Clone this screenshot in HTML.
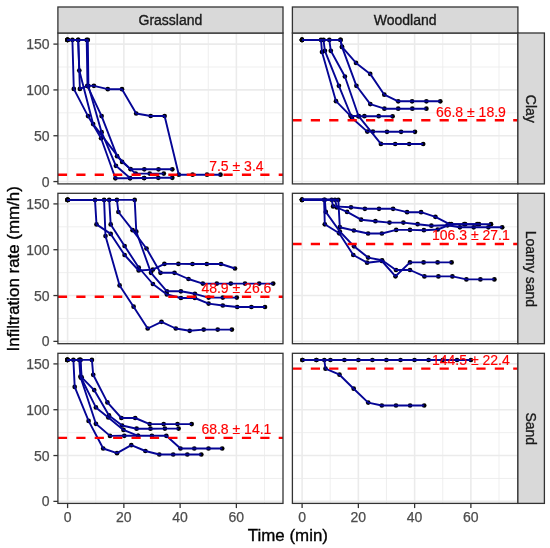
<!DOCTYPE html>
<html><head><meta charset="utf-8"><title>Infiltration rate</title>
<style>
html,body{margin:0;padding:0;background:#fff;}
body{width:550px;height:548px;overflow:hidden;}
svg{display:block;font-family:'Liberation Sans', Arial, Helvetica, sans-serif;filter:blur(0.3px);}
</style></head>
<body>
<svg width="550" height="548" viewBox="0 0 550 548">
<rect x="0" y="0" width="550" height="548" fill="#fff"/>
<g>
<rect x="57.9" y="33" width="225.1" height="150.9" fill="#fff"/>
<line x1="95.73" y1="33" x2="95.73" y2="183.9" stroke="#EBEBEB" stroke-width="0.8"/>
<line x1="151.99" y1="33" x2="151.99" y2="183.9" stroke="#EBEBEB" stroke-width="0.8"/>
<line x1="208.25" y1="33" x2="208.25" y2="183.9" stroke="#EBEBEB" stroke-width="0.8"/>
<line x1="264.51" y1="33" x2="264.51" y2="183.9" stroke="#EBEBEB" stroke-width="0.8"/>
<line x1="57.9" y1="158.66" x2="283" y2="158.66" stroke="#EBEBEB" stroke-width="0.8"/>
<line x1="57.9" y1="112.84" x2="283" y2="112.84" stroke="#EBEBEB" stroke-width="0.8"/>
<line x1="57.9" y1="67.01" x2="283" y2="67.01" stroke="#EBEBEB" stroke-width="0.8"/>
<line x1="67.6" y1="33" x2="67.6" y2="183.9" stroke="#EBEBEB" stroke-width="1.6"/>
<line x1="123.86" y1="33" x2="123.86" y2="183.9" stroke="#EBEBEB" stroke-width="1.6"/>
<line x1="180.12" y1="33" x2="180.12" y2="183.9" stroke="#EBEBEB" stroke-width="1.6"/>
<line x1="236.38" y1="33" x2="236.38" y2="183.9" stroke="#EBEBEB" stroke-width="1.6"/>
<line x1="57.9" y1="181.57" x2="283" y2="181.57" stroke="#EBEBEB" stroke-width="1.6"/>
<line x1="57.9" y1="135.75" x2="283" y2="135.75" stroke="#EBEBEB" stroke-width="1.6"/>
<line x1="57.9" y1="89.92" x2="283" y2="89.92" stroke="#EBEBEB" stroke-width="1.6"/>
<line x1="57.9" y1="44.1" x2="283" y2="44.1" stroke="#EBEBEB" stroke-width="1.6"/>
<circle cx="67.5" cy="39.9" r="2.35" fill="#000"/>
<circle cx="72.4" cy="39.9" r="2.35" fill="#000"/>
<circle cx="73.8" cy="88.9" r="2.35" fill="#000"/>
<circle cx="88" cy="116.1" r="2.35" fill="#000"/>
<circle cx="101.1" cy="138.2" r="2.35" fill="#000"/>
<circle cx="115.4" cy="178.3" r="2.35" fill="#000"/>
<circle cx="130.1" cy="178.3" r="2.35" fill="#000"/>
<circle cx="144.2" cy="178.1" r="2.35" fill="#000"/>
<circle cx="158.3" cy="177.8" r="2.35" fill="#000"/>
<circle cx="172.3" cy="177.8" r="2.35" fill="#000"/>
<circle cx="67.5" cy="39.9" r="2.35" fill="#000"/>
<circle cx="78.2" cy="39.9" r="2.35" fill="#000"/>
<circle cx="79.3" cy="70.6" r="2.35" fill="#000"/>
<circle cx="93.1" cy="124.1" r="2.35" fill="#000"/>
<circle cx="122.1" cy="161.9" r="2.35" fill="#000"/>
<circle cx="135.7" cy="173.6" r="2.35" fill="#000"/>
<circle cx="149.7" cy="173.6" r="2.35" fill="#000"/>
<circle cx="163.8" cy="173.6" r="2.35" fill="#000"/>
<circle cx="67.5" cy="39.9" r="2.35" fill="#000"/>
<circle cx="86.7" cy="39.9" r="2.35" fill="#000"/>
<circle cx="87.5" cy="86.1" r="2.35" fill="#000"/>
<circle cx="101.6" cy="116.1" r="2.35" fill="#000"/>
<circle cx="117.1" cy="156.2" r="2.35" fill="#000"/>
<circle cx="130.6" cy="169.2" r="2.35" fill="#000"/>
<circle cx="144.3" cy="169.3" r="2.35" fill="#000"/>
<circle cx="158.5" cy="169.3" r="2.35" fill="#000"/>
<circle cx="172.3" cy="169.3" r="2.35" fill="#000"/>
<circle cx="67.5" cy="39.9" r="2.35" fill="#000"/>
<circle cx="87.8" cy="39.9" r="2.35" fill="#000"/>
<circle cx="88.4" cy="86" r="2.35" fill="#000"/>
<circle cx="101.6" cy="132.2" r="2.35" fill="#000"/>
<circle cx="115.9" cy="165.8" r="2.35" fill="#000"/>
<circle cx="130" cy="178" r="2.35" fill="#000"/>
<circle cx="144.2" cy="178" r="2.35" fill="#000"/>
<circle cx="67.5" cy="39.9" r="2.35" fill="#000"/>
<circle cx="78.2" cy="39.9" r="2.35" fill="#000"/>
<circle cx="79.9" cy="88.9" r="2.35" fill="#000"/>
<circle cx="87.4" cy="85.9" r="2.35" fill="#000"/>
<circle cx="93.9" cy="85.8" r="2.35" fill="#000"/>
<circle cx="107.8" cy="89.2" r="2.35" fill="#000"/>
<circle cx="122" cy="89.2" r="2.35" fill="#000"/>
<circle cx="136.2" cy="113.5" r="2.35" fill="#000"/>
<circle cx="150.7" cy="116" r="2.35" fill="#000"/>
<circle cx="164.6" cy="116" r="2.35" fill="#000"/>
<circle cx="178.8" cy="174.7" r="2.35" fill="#000"/>
<circle cx="192.6" cy="174.7" r="2.35" fill="#000"/>
<circle cx="207" cy="174.7" r="2.35" fill="#000"/>
<circle cx="220.5" cy="174.7" r="2.35" fill="#000"/>
<polyline points="67.5,39.9 72.4,39.9 73.8,88.9 88,116.1 101.1,138.2 115.4,178.3 130.1,178.3 144.2,178.1 158.3,177.8 172.3,177.8" fill="none" stroke="#050595" stroke-width="1.9" stroke-linejoin="round" stroke-linecap="butt"/>
<polyline points="67.5,39.9 78.2,39.9 79.3,70.6 93.1,124.1 122.1,161.9 135.7,173.6 149.7,173.6 163.8,173.6" fill="none" stroke="#050595" stroke-width="1.9" stroke-linejoin="round" stroke-linecap="butt"/>
<polyline points="67.5,39.9 86.7,39.9 87.5,86.1 101.6,116.1 117.1,156.2 130.6,169.2 144.3,169.3 158.5,169.3 172.3,169.3" fill="none" stroke="#050595" stroke-width="1.9" stroke-linejoin="round" stroke-linecap="butt"/>
<polyline points="67.5,39.9 87.8,39.9 88.4,86 101.6,132.2 115.9,165.8 130,178 144.2,178" fill="none" stroke="#050595" stroke-width="1.9" stroke-linejoin="round" stroke-linecap="butt"/>
<polyline points="67.5,39.9 78.2,39.9 79.9,88.9 87.4,85.9 93.9,85.8 107.8,89.2 122,89.2 136.2,113.5 150.7,116 164.6,116 178.8,174.7 192.6,174.7 207,174.7 220.5,174.7" fill="none" stroke="#050595" stroke-width="1.9" stroke-linejoin="round" stroke-linecap="butt"/>
<line x1="57.9" y1="174.8" x2="283" y2="174.8" stroke="#FF0000" stroke-width="2.4" stroke-dasharray="9.2 9.2"/>
<text x="236.38" y="171.3" text-anchor="middle" fill="#FF0000" stroke="#FF0000" stroke-width="0.15" font-size="14.0">7.5 ± 3.4</text>
<rect x="57.9" y="33" width="225.1" height="150.9" fill="none" stroke="#333333" stroke-width="1.3"/>
</g>
<g>
<rect x="292.4" y="33" width="225.5" height="150.9" fill="#fff"/>
<line x1="330.23" y1="33" x2="330.23" y2="183.9" stroke="#EBEBEB" stroke-width="0.8"/>
<line x1="386.49" y1="33" x2="386.49" y2="183.9" stroke="#EBEBEB" stroke-width="0.8"/>
<line x1="442.75" y1="33" x2="442.75" y2="183.9" stroke="#EBEBEB" stroke-width="0.8"/>
<line x1="499.01" y1="33" x2="499.01" y2="183.9" stroke="#EBEBEB" stroke-width="0.8"/>
<line x1="292.4" y1="158.66" x2="517.9" y2="158.66" stroke="#EBEBEB" stroke-width="0.8"/>
<line x1="292.4" y1="112.84" x2="517.9" y2="112.84" stroke="#EBEBEB" stroke-width="0.8"/>
<line x1="292.4" y1="67.01" x2="517.9" y2="67.01" stroke="#EBEBEB" stroke-width="0.8"/>
<line x1="302.1" y1="33" x2="302.1" y2="183.9" stroke="#EBEBEB" stroke-width="1.6"/>
<line x1="358.36" y1="33" x2="358.36" y2="183.9" stroke="#EBEBEB" stroke-width="1.6"/>
<line x1="414.62" y1="33" x2="414.62" y2="183.9" stroke="#EBEBEB" stroke-width="1.6"/>
<line x1="470.88" y1="33" x2="470.88" y2="183.9" stroke="#EBEBEB" stroke-width="1.6"/>
<line x1="292.4" y1="181.57" x2="517.9" y2="181.57" stroke="#EBEBEB" stroke-width="1.6"/>
<line x1="292.4" y1="135.75" x2="517.9" y2="135.75" stroke="#EBEBEB" stroke-width="1.6"/>
<line x1="292.4" y1="89.92" x2="517.9" y2="89.92" stroke="#EBEBEB" stroke-width="1.6"/>
<line x1="292.4" y1="44.1" x2="517.9" y2="44.1" stroke="#EBEBEB" stroke-width="1.6"/>
<circle cx="302" cy="39.9" r="2.35" fill="#000"/>
<circle cx="321" cy="39.9" r="2.35" fill="#000"/>
<circle cx="322" cy="52" r="2.35" fill="#000"/>
<circle cx="336" cy="101.2" r="2.35" fill="#000"/>
<circle cx="350.5" cy="115.8" r="2.35" fill="#000"/>
<circle cx="358.6" cy="116.2" r="2.35" fill="#000"/>
<circle cx="364.4" cy="116.2" r="2.35" fill="#000"/>
<circle cx="378.7" cy="116.2" r="2.35" fill="#000"/>
<circle cx="392.6" cy="116.3" r="2.35" fill="#000"/>
<circle cx="302" cy="39.9" r="2.35" fill="#000"/>
<circle cx="323.5" cy="39.9" r="2.35" fill="#000"/>
<circle cx="324.9" cy="50.8" r="2.35" fill="#000"/>
<circle cx="338.9" cy="85.8" r="2.35" fill="#000"/>
<circle cx="352" cy="118" r="2.35" fill="#000"/>
<circle cx="367.3" cy="131.6" r="2.35" fill="#000"/>
<circle cx="372.9" cy="131.6" r="2.35" fill="#000"/>
<circle cx="387" cy="131.8" r="2.35" fill="#000"/>
<circle cx="401.1" cy="131.8" r="2.35" fill="#000"/>
<circle cx="415" cy="131.8" r="2.35" fill="#000"/>
<circle cx="302" cy="39.9" r="2.35" fill="#000"/>
<circle cx="329.3" cy="39.9" r="2.35" fill="#000"/>
<circle cx="330.8" cy="50.8" r="2.35" fill="#000"/>
<circle cx="344.9" cy="76.5" r="2.35" fill="#000"/>
<circle cx="358.6" cy="116.2" r="2.35" fill="#000"/>
<circle cx="380.9" cy="143.9" r="2.35" fill="#000"/>
<circle cx="395.2" cy="144" r="2.35" fill="#000"/>
<circle cx="409.2" cy="144" r="2.35" fill="#000"/>
<circle cx="423.2" cy="144" r="2.35" fill="#000"/>
<circle cx="302" cy="39.9" r="2.35" fill="#000"/>
<circle cx="340.5" cy="39.9" r="2.35" fill="#000"/>
<circle cx="342" cy="46.9" r="2.35" fill="#000"/>
<circle cx="356" cy="62.9" r="2.35" fill="#000"/>
<circle cx="370.2" cy="73.9" r="2.35" fill="#000"/>
<circle cx="384.3" cy="94.7" r="2.35" fill="#000"/>
<circle cx="398.2" cy="101.3" r="2.35" fill="#000"/>
<circle cx="412.1" cy="101.3" r="2.35" fill="#000"/>
<circle cx="426.4" cy="101.3" r="2.35" fill="#000"/>
<circle cx="440.3" cy="101.3" r="2.35" fill="#000"/>
<circle cx="302" cy="39.9" r="2.35" fill="#000"/>
<circle cx="340.5" cy="39.9" r="2.35" fill="#000"/>
<circle cx="342" cy="46.9" r="2.35" fill="#000"/>
<circle cx="356.4" cy="85.8" r="2.35" fill="#000"/>
<circle cx="370.3" cy="104.1" r="2.35" fill="#000"/>
<circle cx="384.4" cy="108.7" r="2.35" fill="#000"/>
<circle cx="398.2" cy="108.7" r="2.35" fill="#000"/>
<circle cx="412.3" cy="108.7" r="2.35" fill="#000"/>
<circle cx="426.4" cy="108.7" r="2.35" fill="#000"/>
<polyline points="302,39.9 321,39.9 322,52 336,101.2 350.5,115.8 358.6,116.2 364.4,116.2 378.7,116.2 392.6,116.3" fill="none" stroke="#050595" stroke-width="1.9" stroke-linejoin="round" stroke-linecap="butt"/>
<polyline points="302,39.9 323.5,39.9 324.9,50.8 338.9,85.8 352,118 367.3,131.6 372.9,131.6 387,131.8 401.1,131.8 415,131.8" fill="none" stroke="#050595" stroke-width="1.9" stroke-linejoin="round" stroke-linecap="butt"/>
<polyline points="302,39.9 329.3,39.9 330.8,50.8 344.9,76.5 358.6,116.2 380.9,143.9 395.2,144 409.2,144 423.2,144" fill="none" stroke="#050595" stroke-width="1.9" stroke-linejoin="round" stroke-linecap="butt"/>
<polyline points="302,39.9 340.5,39.9 342,46.9 356,62.9 370.2,73.9 384.3,94.7 398.2,101.3 412.1,101.3 426.4,101.3 440.3,101.3" fill="none" stroke="#050595" stroke-width="1.9" stroke-linejoin="round" stroke-linecap="butt"/>
<polyline points="302,39.9 340.5,39.9 342,46.9 356.4,85.8 370.3,104.1 384.4,108.7 398.2,108.7 412.3,108.7 426.4,108.7" fill="none" stroke="#050595" stroke-width="1.9" stroke-linejoin="round" stroke-linecap="butt"/>
<line x1="292.4" y1="120.3" x2="517.9" y2="120.3" stroke="#FF0000" stroke-width="2.4" stroke-dasharray="9.2 9.2"/>
<text x="470.88" y="116.8" text-anchor="middle" fill="#FF0000" stroke="#FF0000" stroke-width="0.15" font-size="14.0">66.8 ± 18.9</text>
<rect x="292.4" y="33" width="225.5" height="150.9" fill="none" stroke="#333333" stroke-width="1.3"/>
</g>
<g>
<rect x="57.9" y="193.3" width="225.1" height="150.4" fill="#fff"/>
<line x1="95.73" y1="193.3" x2="95.73" y2="343.7" stroke="#EBEBEB" stroke-width="0.8"/>
<line x1="151.99" y1="193.3" x2="151.99" y2="343.7" stroke="#EBEBEB" stroke-width="0.8"/>
<line x1="208.25" y1="193.3" x2="208.25" y2="343.7" stroke="#EBEBEB" stroke-width="0.8"/>
<line x1="264.51" y1="193.3" x2="264.51" y2="343.7" stroke="#EBEBEB" stroke-width="0.8"/>
<line x1="57.9" y1="318.46" x2="283" y2="318.46" stroke="#EBEBEB" stroke-width="0.8"/>
<line x1="57.9" y1="272.64" x2="283" y2="272.64" stroke="#EBEBEB" stroke-width="0.8"/>
<line x1="57.9" y1="226.81" x2="283" y2="226.81" stroke="#EBEBEB" stroke-width="0.8"/>
<line x1="67.6" y1="193.3" x2="67.6" y2="343.7" stroke="#EBEBEB" stroke-width="1.6"/>
<line x1="123.86" y1="193.3" x2="123.86" y2="343.7" stroke="#EBEBEB" stroke-width="1.6"/>
<line x1="180.12" y1="193.3" x2="180.12" y2="343.7" stroke="#EBEBEB" stroke-width="1.6"/>
<line x1="236.38" y1="193.3" x2="236.38" y2="343.7" stroke="#EBEBEB" stroke-width="1.6"/>
<line x1="57.9" y1="341.38" x2="283" y2="341.38" stroke="#EBEBEB" stroke-width="1.6"/>
<line x1="57.9" y1="295.55" x2="283" y2="295.55" stroke="#EBEBEB" stroke-width="1.6"/>
<line x1="57.9" y1="249.72" x2="283" y2="249.72" stroke="#EBEBEB" stroke-width="1.6"/>
<line x1="57.9" y1="203.9" x2="283" y2="203.9" stroke="#EBEBEB" stroke-width="1.6"/>
<circle cx="67.6" cy="199.9" r="2.35" fill="#000"/>
<circle cx="95" cy="199.9" r="2.35" fill="#000"/>
<circle cx="96.5" cy="224.4" r="2.35" fill="#000"/>
<circle cx="110.7" cy="233.9" r="2.35" fill="#000"/>
<circle cx="124.6" cy="255" r="2.35" fill="#000"/>
<circle cx="138.7" cy="270.5" r="2.35" fill="#000"/>
<circle cx="152.9" cy="269.6" r="2.35" fill="#000"/>
<circle cx="164.4" cy="263.9" r="2.35" fill="#000"/>
<circle cx="178.4" cy="263.9" r="2.35" fill="#000"/>
<circle cx="192.5" cy="264" r="2.35" fill="#000"/>
<circle cx="206.8" cy="264" r="2.35" fill="#000"/>
<circle cx="221" cy="264" r="2.35" fill="#000"/>
<circle cx="235" cy="268.5" r="2.35" fill="#000"/>
<circle cx="67.6" cy="199.9" r="2.35" fill="#000"/>
<circle cx="104.1" cy="199.9" r="2.35" fill="#000"/>
<circle cx="105.5" cy="236.1" r="2.35" fill="#000"/>
<circle cx="119.6" cy="285.4" r="2.35" fill="#000"/>
<circle cx="133.6" cy="306.7" r="2.35" fill="#000"/>
<circle cx="147.7" cy="328.5" r="2.35" fill="#000"/>
<circle cx="161.5" cy="321.8" r="2.35" fill="#000"/>
<circle cx="175.8" cy="328.5" r="2.35" fill="#000"/>
<circle cx="189.7" cy="330.8" r="2.35" fill="#000"/>
<circle cx="203.7" cy="329.6" r="2.35" fill="#000"/>
<circle cx="217.7" cy="329.6" r="2.35" fill="#000"/>
<circle cx="231.9" cy="329.6" r="2.35" fill="#000"/>
<circle cx="67.6" cy="199.9" r="2.35" fill="#000"/>
<circle cx="109.2" cy="199.9" r="2.35" fill="#000"/>
<circle cx="110.7" cy="224.4" r="2.35" fill="#000"/>
<circle cx="124.6" cy="246" r="2.35" fill="#000"/>
<circle cx="138.7" cy="267.5" r="2.35" fill="#000"/>
<circle cx="152.9" cy="284" r="2.35" fill="#000"/>
<circle cx="166.9" cy="294.5" r="2.35" fill="#000"/>
<circle cx="180.9" cy="298" r="2.35" fill="#000"/>
<circle cx="194.9" cy="298" r="2.35" fill="#000"/>
<circle cx="208.6" cy="303.6" r="2.35" fill="#000"/>
<circle cx="222.8" cy="305.5" r="2.35" fill="#000"/>
<circle cx="237.2" cy="307" r="2.35" fill="#000"/>
<circle cx="251.4" cy="307" r="2.35" fill="#000"/>
<circle cx="265" cy="307" r="2.35" fill="#000"/>
<circle cx="67.6" cy="199.9" r="2.35" fill="#000"/>
<circle cx="116.9" cy="199.9" r="2.35" fill="#000"/>
<circle cx="118.4" cy="212" r="2.35" fill="#000"/>
<circle cx="132.6" cy="230.2" r="2.35" fill="#000"/>
<circle cx="146.5" cy="248.5" r="2.35" fill="#000"/>
<circle cx="160.5" cy="272.8" r="2.35" fill="#000"/>
<circle cx="174.5" cy="272.8" r="2.35" fill="#000"/>
<circle cx="188.5" cy="279" r="2.35" fill="#000"/>
<circle cx="202.8" cy="283.6" r="2.35" fill="#000"/>
<circle cx="216.8" cy="283.6" r="2.35" fill="#000"/>
<circle cx="230.8" cy="283.6" r="2.35" fill="#000"/>
<circle cx="245" cy="283.6" r="2.35" fill="#000"/>
<circle cx="259.2" cy="283.6" r="2.35" fill="#000"/>
<circle cx="273.2" cy="283.6" r="2.35" fill="#000"/>
<circle cx="67.6" cy="199.9" r="2.35" fill="#000"/>
<circle cx="134.7" cy="199.9" r="2.35" fill="#000"/>
<circle cx="136.3" cy="231.7" r="2.35" fill="#000"/>
<circle cx="151" cy="272.8" r="2.35" fill="#000"/>
<circle cx="166.9" cy="291.3" r="2.35" fill="#000"/>
<circle cx="180.9" cy="291.3" r="2.35" fill="#000"/>
<circle cx="194.9" cy="293.8" r="2.35" fill="#000"/>
<circle cx="208.6" cy="297.6" r="2.35" fill="#000"/>
<circle cx="222.8" cy="297.6" r="2.35" fill="#000"/>
<circle cx="236.8" cy="297.6" r="2.35" fill="#000"/>
<polyline points="67.6,199.9 95,199.9 96.5,224.4 110.7,233.9 124.6,255 138.7,270.5 152.9,269.6 164.4,263.9 178.4,263.9 192.5,264 206.8,264 221,264 235,268.5" fill="none" stroke="#050595" stroke-width="1.9" stroke-linejoin="round" stroke-linecap="butt"/>
<polyline points="67.6,199.9 104.1,199.9 105.5,236.1 119.6,285.4 133.6,306.7 147.7,328.5 161.5,321.8 175.8,328.5 189.7,330.8 203.7,329.6 217.7,329.6 231.9,329.6" fill="none" stroke="#050595" stroke-width="1.9" stroke-linejoin="round" stroke-linecap="butt"/>
<polyline points="67.6,199.9 109.2,199.9 110.7,224.4 124.6,246 138.7,267.5 152.9,284 166.9,294.5 180.9,298 194.9,298 208.6,303.6 222.8,305.5 237.2,307 251.4,307 265,307" fill="none" stroke="#050595" stroke-width="1.9" stroke-linejoin="round" stroke-linecap="butt"/>
<polyline points="67.6,199.9 116.9,199.9 118.4,212 132.6,230.2 146.5,248.5 160.5,272.8 174.5,272.8 188.5,279 202.8,283.6 216.8,283.6 230.8,283.6 245,283.6 259.2,283.6 273.2,283.6" fill="none" stroke="#050595" stroke-width="1.9" stroke-linejoin="round" stroke-linecap="butt"/>
<polyline points="67.6,199.9 134.7,199.9 136.3,231.7 151,272.8 166.9,291.3 180.9,291.3 194.9,293.8 208.6,297.6 222.8,297.6 236.8,297.6" fill="none" stroke="#050595" stroke-width="1.9" stroke-linejoin="round" stroke-linecap="butt"/>
<line x1="57.9" y1="296.7" x2="283" y2="296.7" stroke="#FF0000" stroke-width="2.4" stroke-dasharray="9.2 9.2"/>
<text x="236.38" y="293.3" text-anchor="middle" fill="#FF0000" stroke="#FF0000" stroke-width="0.15" font-size="14.0">48.9 ± 26.6</text>
<rect x="57.9" y="193.3" width="225.1" height="150.4" fill="none" stroke="#333333" stroke-width="1.3"/>
</g>
<g>
<rect x="292.4" y="193.3" width="225.5" height="150.4" fill="#fff"/>
<line x1="330.23" y1="193.3" x2="330.23" y2="343.7" stroke="#EBEBEB" stroke-width="0.8"/>
<line x1="386.49" y1="193.3" x2="386.49" y2="343.7" stroke="#EBEBEB" stroke-width="0.8"/>
<line x1="442.75" y1="193.3" x2="442.75" y2="343.7" stroke="#EBEBEB" stroke-width="0.8"/>
<line x1="499.01" y1="193.3" x2="499.01" y2="343.7" stroke="#EBEBEB" stroke-width="0.8"/>
<line x1="292.4" y1="318.46" x2="517.9" y2="318.46" stroke="#EBEBEB" stroke-width="0.8"/>
<line x1="292.4" y1="272.64" x2="517.9" y2="272.64" stroke="#EBEBEB" stroke-width="0.8"/>
<line x1="292.4" y1="226.81" x2="517.9" y2="226.81" stroke="#EBEBEB" stroke-width="0.8"/>
<line x1="302.1" y1="193.3" x2="302.1" y2="343.7" stroke="#EBEBEB" stroke-width="1.6"/>
<line x1="358.36" y1="193.3" x2="358.36" y2="343.7" stroke="#EBEBEB" stroke-width="1.6"/>
<line x1="414.62" y1="193.3" x2="414.62" y2="343.7" stroke="#EBEBEB" stroke-width="1.6"/>
<line x1="470.88" y1="193.3" x2="470.88" y2="343.7" stroke="#EBEBEB" stroke-width="1.6"/>
<line x1="292.4" y1="341.38" x2="517.9" y2="341.38" stroke="#EBEBEB" stroke-width="1.6"/>
<line x1="292.4" y1="295.55" x2="517.9" y2="295.55" stroke="#EBEBEB" stroke-width="1.6"/>
<line x1="292.4" y1="249.72" x2="517.9" y2="249.72" stroke="#EBEBEB" stroke-width="1.6"/>
<line x1="292.4" y1="203.9" x2="517.9" y2="203.9" stroke="#EBEBEB" stroke-width="1.6"/>
<circle cx="302" cy="199.8" r="2.35" fill="#000"/>
<circle cx="331.7" cy="199.8" r="2.35" fill="#000"/>
<circle cx="333.1" cy="206.4" r="2.35" fill="#000"/>
<circle cx="351" cy="207.3" r="2.35" fill="#000"/>
<circle cx="364.9" cy="208.8" r="2.35" fill="#000"/>
<circle cx="379" cy="208.8" r="2.35" fill="#000"/>
<circle cx="393.1" cy="208.8" r="2.35" fill="#000"/>
<circle cx="407.1" cy="212.2" r="2.35" fill="#000"/>
<circle cx="421.1" cy="212.2" r="2.35" fill="#000"/>
<circle cx="435.4" cy="216.8" r="2.35" fill="#000"/>
<circle cx="449.5" cy="224.2" r="2.35" fill="#000"/>
<circle cx="464.2" cy="224.2" r="2.35" fill="#000"/>
<circle cx="477.2" cy="224.2" r="2.35" fill="#000"/>
<circle cx="491" cy="224.2" r="2.35" fill="#000"/>
<circle cx="302" cy="199.8" r="2.35" fill="#000"/>
<circle cx="335" cy="199.8" r="2.35" fill="#000"/>
<circle cx="336.9" cy="207.5" r="2.35" fill="#000"/>
<circle cx="347.1" cy="211.9" r="2.35" fill="#000"/>
<circle cx="361.1" cy="219.7" r="2.35" fill="#000"/>
<circle cx="375.4" cy="221.2" r="2.35" fill="#000"/>
<circle cx="389.5" cy="222.6" r="2.35" fill="#000"/>
<circle cx="403.4" cy="222.6" r="2.35" fill="#000"/>
<circle cx="417.6" cy="224.2" r="2.35" fill="#000"/>
<circle cx="431.4" cy="225.7" r="2.35" fill="#000"/>
<circle cx="447.5" cy="225.3" r="2.35" fill="#000"/>
<circle cx="459.9" cy="227.3" r="2.35" fill="#000"/>
<circle cx="473.7" cy="227.3" r="2.35" fill="#000"/>
<circle cx="488.4" cy="227.3" r="2.35" fill="#000"/>
<circle cx="502.2" cy="227.3" r="2.35" fill="#000"/>
<circle cx="302" cy="199.8" r="2.35" fill="#000"/>
<circle cx="338.3" cy="199.8" r="2.35" fill="#000"/>
<circle cx="339.8" cy="227.2" r="2.35" fill="#000"/>
<circle cx="353.9" cy="230.5" r="2.35" fill="#000"/>
<circle cx="368.1" cy="233.5" r="2.35" fill="#000"/>
<circle cx="381.9" cy="233.5" r="2.35" fill="#000"/>
<circle cx="396.2" cy="229.9" r="2.35" fill="#000"/>
<circle cx="410" cy="229.9" r="2.35" fill="#000"/>
<circle cx="423.9" cy="230.2" r="2.35" fill="#000"/>
<circle cx="437.7" cy="229.5" r="2.35" fill="#000"/>
<circle cx="451.3" cy="224.2" r="2.35" fill="#000"/>
<circle cx="465.2" cy="224.2" r="2.35" fill="#000"/>
<circle cx="479" cy="224.2" r="2.35" fill="#000"/>
<circle cx="302" cy="199.8" r="2.35" fill="#000"/>
<circle cx="324.1" cy="199.8" r="2.35" fill="#000"/>
<circle cx="324.8" cy="224.3" r="2.35" fill="#000"/>
<circle cx="339.2" cy="233.3" r="2.35" fill="#000"/>
<circle cx="353.3" cy="255" r="2.35" fill="#000"/>
<circle cx="367.1" cy="262.7" r="2.35" fill="#000"/>
<circle cx="381.9" cy="261" r="2.35" fill="#000"/>
<circle cx="395.5" cy="276.3" r="2.35" fill="#000"/>
<circle cx="410" cy="262.4" r="2.35" fill="#000"/>
<circle cx="423.6" cy="262.4" r="2.35" fill="#000"/>
<circle cx="437.6" cy="262.4" r="2.35" fill="#000"/>
<circle cx="451.6" cy="262.4" r="2.35" fill="#000"/>
<circle cx="302" cy="199.8" r="2.35" fill="#000"/>
<circle cx="324.8" cy="199.8" r="2.35" fill="#000"/>
<circle cx="325.8" cy="211.9" r="2.35" fill="#000"/>
<circle cx="339.8" cy="231.5" r="2.35" fill="#000"/>
<circle cx="354" cy="246.3" r="2.35" fill="#000"/>
<circle cx="368.1" cy="257.6" r="2.35" fill="#000"/>
<circle cx="382.1" cy="260.3" r="2.35" fill="#000"/>
<circle cx="396" cy="270" r="2.35" fill="#000"/>
<circle cx="410" cy="270" r="2.35" fill="#000"/>
<circle cx="424.4" cy="276.4" r="2.35" fill="#000"/>
<circle cx="438.4" cy="276.4" r="2.35" fill="#000"/>
<circle cx="452.4" cy="276.4" r="2.35" fill="#000"/>
<circle cx="466.4" cy="279.4" r="2.35" fill="#000"/>
<circle cx="480.4" cy="279.4" r="2.35" fill="#000"/>
<circle cx="494.4" cy="279.4" r="2.35" fill="#000"/>
<polyline points="302,199.8 331.7,199.8 333.1,206.4 351,207.3 364.9,208.8 379,208.8 393.1,208.8 407.1,212.2 421.1,212.2 435.4,216.8 449.5,224.2 464.2,224.2 477.2,224.2 491,224.2" fill="none" stroke="#050595" stroke-width="1.9" stroke-linejoin="round" stroke-linecap="butt"/>
<polyline points="302,199.8 335,199.8 336.9,207.5 347.1,211.9 361.1,219.7 375.4,221.2 389.5,222.6 403.4,222.6 417.6,224.2 431.4,225.7 447.5,225.3 459.9,227.3 473.7,227.3 488.4,227.3 502.2,227.3" fill="none" stroke="#050595" stroke-width="1.9" stroke-linejoin="round" stroke-linecap="butt"/>
<polyline points="302,199.8 338.3,199.8 339.8,227.2 353.9,230.5 368.1,233.5 381.9,233.5 396.2,229.9 410,229.9 423.9,230.2 437.7,229.5 451.3,224.2 465.2,224.2 479,224.2" fill="none" stroke="#050595" stroke-width="1.9" stroke-linejoin="round" stroke-linecap="butt"/>
<polyline points="302,199.8 324.1,199.8 324.8,224.3 339.2,233.3 353.3,255 367.1,262.7 381.9,261 395.5,276.3 410,262.4 423.6,262.4 437.6,262.4 451.6,262.4" fill="none" stroke="#050595" stroke-width="1.9" stroke-linejoin="round" stroke-linecap="butt"/>
<polyline points="302,199.8 324.8,199.8 325.8,211.9 339.8,231.5 354,246.3 368.1,257.6 382.1,260.3 396,270 410,270 424.4,276.4 438.4,276.4 452.4,276.4 466.4,279.4 480.4,279.4 494.4,279.4" fill="none" stroke="#050595" stroke-width="1.9" stroke-linejoin="round" stroke-linecap="butt"/>
<line x1="292.4" y1="244" x2="517.9" y2="244" stroke="#FF0000" stroke-width="2.4" stroke-dasharray="9.2 9.2"/>
<text x="470.88" y="240" text-anchor="middle" fill="#FF0000" stroke="#FF0000" stroke-width="0.15" font-size="14.0">106.3 ± 27.1</text>
<rect x="292.4" y="193.3" width="225.5" height="150.4" fill="none" stroke="#333333" stroke-width="1.3"/>
</g>
<g>
<rect x="57.9" y="353.3" width="225.1" height="150.1" fill="#fff"/>
<line x1="95.73" y1="353.3" x2="95.73" y2="503.4" stroke="#EBEBEB" stroke-width="0.8"/>
<line x1="151.99" y1="353.3" x2="151.99" y2="503.4" stroke="#EBEBEB" stroke-width="0.8"/>
<line x1="208.25" y1="353.3" x2="208.25" y2="503.4" stroke="#EBEBEB" stroke-width="0.8"/>
<line x1="264.51" y1="353.3" x2="264.51" y2="503.4" stroke="#EBEBEB" stroke-width="0.8"/>
<line x1="57.9" y1="478.46" x2="283" y2="478.46" stroke="#EBEBEB" stroke-width="0.8"/>
<line x1="57.9" y1="432.64" x2="283" y2="432.64" stroke="#EBEBEB" stroke-width="0.8"/>
<line x1="57.9" y1="386.81" x2="283" y2="386.81" stroke="#EBEBEB" stroke-width="0.8"/>
<line x1="67.6" y1="353.3" x2="67.6" y2="503.4" stroke="#EBEBEB" stroke-width="1.6"/>
<line x1="123.86" y1="353.3" x2="123.86" y2="503.4" stroke="#EBEBEB" stroke-width="1.6"/>
<line x1="180.12" y1="353.3" x2="180.12" y2="503.4" stroke="#EBEBEB" stroke-width="1.6"/>
<line x1="236.38" y1="353.3" x2="236.38" y2="503.4" stroke="#EBEBEB" stroke-width="1.6"/>
<line x1="57.9" y1="501.38" x2="283" y2="501.38" stroke="#EBEBEB" stroke-width="1.6"/>
<line x1="57.9" y1="455.55" x2="283" y2="455.55" stroke="#EBEBEB" stroke-width="1.6"/>
<line x1="57.9" y1="409.72" x2="283" y2="409.72" stroke="#EBEBEB" stroke-width="1.6"/>
<line x1="57.9" y1="363.9" x2="283" y2="363.9" stroke="#EBEBEB" stroke-width="1.6"/>
<circle cx="67.4" cy="359.9" r="2.35" fill="#000"/>
<circle cx="73.4" cy="359.9" r="2.35" fill="#000"/>
<circle cx="74.7" cy="386.9" r="2.35" fill="#000"/>
<circle cx="88.6" cy="420.9" r="2.35" fill="#000"/>
<circle cx="103.2" cy="448.5" r="2.35" fill="#000"/>
<circle cx="117" cy="453.2" r="2.35" fill="#000"/>
<circle cx="131.3" cy="445.2" r="2.35" fill="#000"/>
<circle cx="145.4" cy="451" r="2.35" fill="#000"/>
<circle cx="159.3" cy="454.5" r="2.35" fill="#000"/>
<circle cx="173.2" cy="454.5" r="2.35" fill="#000"/>
<circle cx="187.3" cy="454.5" r="2.35" fill="#000"/>
<circle cx="201.3" cy="454.5" r="2.35" fill="#000"/>
<circle cx="67.4" cy="359.9" r="2.35" fill="#000"/>
<circle cx="79.2" cy="359.9" r="2.35" fill="#000"/>
<circle cx="80.4" cy="376.7" r="2.35" fill="#000"/>
<circle cx="95.9" cy="423.8" r="2.35" fill="#000"/>
<circle cx="110" cy="435.9" r="2.35" fill="#000"/>
<circle cx="124.3" cy="435.8" r="2.35" fill="#000"/>
<circle cx="138.1" cy="435.8" r="2.35" fill="#000"/>
<circle cx="151.9" cy="435.8" r="2.35" fill="#000"/>
<circle cx="166.3" cy="435.8" r="2.35" fill="#000"/>
<circle cx="180.5" cy="448.5" r="2.35" fill="#000"/>
<circle cx="194.3" cy="448.5" r="2.35" fill="#000"/>
<circle cx="208.5" cy="448.5" r="2.35" fill="#000"/>
<circle cx="222.2" cy="448.5" r="2.35" fill="#000"/>
<circle cx="67.4" cy="359.9" r="2.35" fill="#000"/>
<circle cx="80.4" cy="359.9" r="2.35" fill="#000"/>
<circle cx="81.7" cy="377.4" r="2.35" fill="#000"/>
<circle cx="94.2" cy="390.1" r="2.35" fill="#000"/>
<circle cx="109" cy="415.4" r="2.35" fill="#000"/>
<circle cx="122.1" cy="425.5" r="2.35" fill="#000"/>
<circle cx="136.6" cy="428.7" r="2.35" fill="#000"/>
<circle cx="150.5" cy="428.7" r="2.35" fill="#000"/>
<circle cx="164.9" cy="428.6" r="2.35" fill="#000"/>
<circle cx="178.6" cy="428.6" r="2.35" fill="#000"/>
<circle cx="67.4" cy="359.9" r="2.35" fill="#000"/>
<circle cx="80.4" cy="359.9" r="2.35" fill="#000"/>
<circle cx="81.2" cy="378" r="2.35" fill="#000"/>
<circle cx="95.9" cy="407.4" r="2.35" fill="#000"/>
<circle cx="108.3" cy="417.5" r="2.35" fill="#000"/>
<circle cx="123.5" cy="429.9" r="2.35" fill="#000"/>
<circle cx="138.1" cy="435.8" r="2.35" fill="#000"/>
<circle cx="67.4" cy="359.9" r="2.35" fill="#000"/>
<circle cx="91.9" cy="359.9" r="2.35" fill="#000"/>
<circle cx="93.2" cy="374.8" r="2.35" fill="#000"/>
<circle cx="107.4" cy="402.4" r="2.35" fill="#000"/>
<circle cx="121.4" cy="418" r="2.35" fill="#000"/>
<circle cx="135.2" cy="418" r="2.35" fill="#000"/>
<circle cx="149.7" cy="424.1" r="2.35" fill="#000"/>
<circle cx="163.7" cy="424.1" r="2.35" fill="#000"/>
<circle cx="177.5" cy="424.1" r="2.35" fill="#000"/>
<circle cx="191.7" cy="424.1" r="2.35" fill="#000"/>
<polyline points="67.4,359.9 73.4,359.9 74.7,386.9 88.6,420.9 103.2,448.5 117,453.2 131.3,445.2 145.4,451 159.3,454.5 173.2,454.5 187.3,454.5 201.3,454.5" fill="none" stroke="#050595" stroke-width="1.9" stroke-linejoin="round" stroke-linecap="butt"/>
<polyline points="67.4,359.9 79.2,359.9 80.4,376.7 95.9,423.8 110,435.9 124.3,435.8 138.1,435.8 151.9,435.8 166.3,435.8 180.5,448.5 194.3,448.5 208.5,448.5 222.2,448.5" fill="none" stroke="#050595" stroke-width="1.9" stroke-linejoin="round" stroke-linecap="butt"/>
<polyline points="67.4,359.9 80.4,359.9 81.7,377.4 94.2,390.1 109,415.4 122.1,425.5 136.6,428.7 150.5,428.7 164.9,428.6 178.6,428.6" fill="none" stroke="#050595" stroke-width="1.9" stroke-linejoin="round" stroke-linecap="butt"/>
<polyline points="67.4,359.9 80.4,359.9 81.2,378 95.9,407.4 108.3,417.5 123.5,429.9 138.1,435.8" fill="none" stroke="#050595" stroke-width="1.9" stroke-linejoin="round" stroke-linecap="butt"/>
<polyline points="67.4,359.9 91.9,359.9 93.2,374.8 107.4,402.4 121.4,418 135.2,418 149.7,424.1 163.7,424.1 177.5,424.1 191.7,424.1" fill="none" stroke="#050595" stroke-width="1.9" stroke-linejoin="round" stroke-linecap="butt"/>
<line x1="57.9" y1="437.9" x2="283" y2="437.9" stroke="#FF0000" stroke-width="2.4" stroke-dasharray="9.2 9.2"/>
<text x="236.38" y="434.4" text-anchor="middle" fill="#FF0000" stroke="#FF0000" stroke-width="0.15" font-size="14.0">68.8 ± 14.1</text>
<rect x="57.9" y="353.3" width="225.1" height="150.1" fill="none" stroke="#333333" stroke-width="1.3"/>
</g>
<g>
<rect x="292.4" y="353.3" width="225.5" height="150.1" fill="#fff"/>
<line x1="330.23" y1="353.3" x2="330.23" y2="503.4" stroke="#EBEBEB" stroke-width="0.8"/>
<line x1="386.49" y1="353.3" x2="386.49" y2="503.4" stroke="#EBEBEB" stroke-width="0.8"/>
<line x1="442.75" y1="353.3" x2="442.75" y2="503.4" stroke="#EBEBEB" stroke-width="0.8"/>
<line x1="499.01" y1="353.3" x2="499.01" y2="503.4" stroke="#EBEBEB" stroke-width="0.8"/>
<line x1="292.4" y1="478.46" x2="517.9" y2="478.46" stroke="#EBEBEB" stroke-width="0.8"/>
<line x1="292.4" y1="432.64" x2="517.9" y2="432.64" stroke="#EBEBEB" stroke-width="0.8"/>
<line x1="292.4" y1="386.81" x2="517.9" y2="386.81" stroke="#EBEBEB" stroke-width="0.8"/>
<line x1="302.1" y1="353.3" x2="302.1" y2="503.4" stroke="#EBEBEB" stroke-width="1.6"/>
<line x1="358.36" y1="353.3" x2="358.36" y2="503.4" stroke="#EBEBEB" stroke-width="1.6"/>
<line x1="414.62" y1="353.3" x2="414.62" y2="503.4" stroke="#EBEBEB" stroke-width="1.6"/>
<line x1="470.88" y1="353.3" x2="470.88" y2="503.4" stroke="#EBEBEB" stroke-width="1.6"/>
<line x1="292.4" y1="501.38" x2="517.9" y2="501.38" stroke="#EBEBEB" stroke-width="1.6"/>
<line x1="292.4" y1="455.55" x2="517.9" y2="455.55" stroke="#EBEBEB" stroke-width="1.6"/>
<line x1="292.4" y1="409.72" x2="517.9" y2="409.72" stroke="#EBEBEB" stroke-width="1.6"/>
<line x1="292.4" y1="363.9" x2="517.9" y2="363.9" stroke="#EBEBEB" stroke-width="1.6"/>
<circle cx="302.4" cy="360" r="2.35" fill="#000"/>
<circle cx="316.4" cy="360" r="2.35" fill="#000"/>
<circle cx="330.4" cy="360" r="2.35" fill="#000"/>
<circle cx="344.4" cy="360" r="2.35" fill="#000"/>
<circle cx="358.4" cy="360" r="2.35" fill="#000"/>
<circle cx="372.4" cy="360" r="2.35" fill="#000"/>
<circle cx="386.4" cy="360" r="2.35" fill="#000"/>
<circle cx="400.5" cy="360" r="2.35" fill="#000"/>
<circle cx="414.5" cy="360" r="2.35" fill="#000"/>
<circle cx="428.6" cy="360" r="2.35" fill="#000"/>
<circle cx="442.7" cy="360" r="2.35" fill="#000"/>
<circle cx="457" cy="360" r="2.35" fill="#000"/>
<circle cx="470.9" cy="360" r="2.35" fill="#000"/>
<circle cx="302.4" cy="360" r="2.35" fill="#000"/>
<circle cx="316.4" cy="360" r="2.35" fill="#000"/>
<circle cx="324.3" cy="360" r="2.35" fill="#000"/>
<circle cx="325.5" cy="368.7" r="2.35" fill="#000"/>
<circle cx="339.5" cy="374.7" r="2.35" fill="#000"/>
<circle cx="353.7" cy="388.7" r="2.35" fill="#000"/>
<circle cx="368.2" cy="402.6" r="2.35" fill="#000"/>
<circle cx="381.8" cy="405.5" r="2.35" fill="#000"/>
<circle cx="396" cy="405.5" r="2.35" fill="#000"/>
<circle cx="410.1" cy="405.5" r="2.35" fill="#000"/>
<circle cx="424.2" cy="405.5" r="2.35" fill="#000"/>
<polyline points="302.4,360 316.4,360 330.4,360 344.4,360 358.4,360 372.4,360 386.4,360 400.5,360 414.5,360 428.6,360 442.7,360 457,360 470.9,360" fill="none" stroke="#050595" stroke-width="1.9" stroke-linejoin="round" stroke-linecap="butt"/>
<polyline points="302.4,360 316.4,360 324.3,360 325.5,368.7 339.5,374.7 353.7,388.7 368.2,402.6 381.8,405.5 396,405.5 410.1,405.5 424.2,405.5" fill="none" stroke="#050595" stroke-width="1.9" stroke-linejoin="round" stroke-linecap="butt"/>
<line x1="292.4" y1="368.6" x2="517.9" y2="368.6" stroke="#FF0000" stroke-width="2.4" stroke-dasharray="9.2 9.2"/>
<text x="470.88" y="365.2" text-anchor="middle" fill="#FF0000" stroke="#FF0000" stroke-width="0.15" font-size="14.0">144.5 ± 22.4</text>
<rect x="292.4" y="353.3" width="225.5" height="150.1" fill="none" stroke="#333333" stroke-width="1.3"/>
</g>
<rect x="57.9" y="7" width="225.1" height="26" fill="#D9D9D9" stroke="#333333" stroke-width="1.3"/>
<text x="170.45" y="24.6" text-anchor="middle" fill="#1A1A1A" stroke="#1A1A1A" stroke-width="0.35" font-size="14.0">Grassland</text>
<rect x="292.4" y="7" width="225.5" height="26" fill="#D9D9D9" stroke="#333333" stroke-width="1.3"/>
<text x="405.15" y="24.6" text-anchor="middle" fill="#1A1A1A" stroke="#1A1A1A" stroke-width="0.35" font-size="14.0">Woodland</text>
<rect x="517.9" y="33" width="26.5" height="150.9" fill="#D9D9D9" stroke="#333333" stroke-width="1.3"/>
<text transform="translate(526.4,108.85) rotate(90)" text-anchor="middle" fill="#1A1A1A" stroke="#1A1A1A" stroke-width="0.35" font-size="14.0">Clay</text>
<rect x="517.9" y="193.3" width="26.5" height="150.4" fill="#D9D9D9" stroke="#333333" stroke-width="1.3"/>
<text transform="translate(526.4,268.9) rotate(90)" text-anchor="middle" fill="#1A1A1A" stroke="#1A1A1A" stroke-width="0.35" font-size="14.0">Loamy sand</text>
<rect x="517.9" y="353.3" width="26.5" height="150.1" fill="#D9D9D9" stroke="#333333" stroke-width="1.3"/>
<text transform="translate(526.4,428.75) rotate(90)" text-anchor="middle" fill="#1A1A1A" stroke="#1A1A1A" stroke-width="0.35" font-size="14.0">Sand</text>
<line x1="53.4" y1="181.57" x2="57.9" y2="181.57" stroke="#333333" stroke-width="1.3"/>
<text x="49.6" y="186.57" text-anchor="end" fill="#4D4D4D" stroke="#4D4D4D" stroke-width="0.25" font-size="14.0">0</text>
<line x1="53.4" y1="135.75" x2="57.9" y2="135.75" stroke="#333333" stroke-width="1.3"/>
<text x="49.6" y="140.75" text-anchor="end" fill="#4D4D4D" stroke="#4D4D4D" stroke-width="0.25" font-size="14.0">50</text>
<line x1="53.4" y1="89.92" x2="57.9" y2="89.92" stroke="#333333" stroke-width="1.3"/>
<text x="49.6" y="94.92" text-anchor="end" fill="#4D4D4D" stroke="#4D4D4D" stroke-width="0.25" font-size="14.0">100</text>
<line x1="53.4" y1="44.1" x2="57.9" y2="44.1" stroke="#333333" stroke-width="1.3"/>
<text x="49.6" y="49.1" text-anchor="end" fill="#4D4D4D" stroke="#4D4D4D" stroke-width="0.25" font-size="14.0">150</text>
<line x1="53.4" y1="341.38" x2="57.9" y2="341.38" stroke="#333333" stroke-width="1.3"/>
<text x="49.6" y="346.38" text-anchor="end" fill="#4D4D4D" stroke="#4D4D4D" stroke-width="0.25" font-size="14.0">0</text>
<line x1="53.4" y1="295.55" x2="57.9" y2="295.55" stroke="#333333" stroke-width="1.3"/>
<text x="49.6" y="300.55" text-anchor="end" fill="#4D4D4D" stroke="#4D4D4D" stroke-width="0.25" font-size="14.0">50</text>
<line x1="53.4" y1="249.72" x2="57.9" y2="249.72" stroke="#333333" stroke-width="1.3"/>
<text x="49.6" y="254.72" text-anchor="end" fill="#4D4D4D" stroke="#4D4D4D" stroke-width="0.25" font-size="14.0">100</text>
<line x1="53.4" y1="203.9" x2="57.9" y2="203.9" stroke="#333333" stroke-width="1.3"/>
<text x="49.6" y="208.9" text-anchor="end" fill="#4D4D4D" stroke="#4D4D4D" stroke-width="0.25" font-size="14.0">150</text>
<line x1="53.4" y1="501.38" x2="57.9" y2="501.38" stroke="#333333" stroke-width="1.3"/>
<text x="49.6" y="506.38" text-anchor="end" fill="#4D4D4D" stroke="#4D4D4D" stroke-width="0.25" font-size="14.0">0</text>
<line x1="53.4" y1="455.55" x2="57.9" y2="455.55" stroke="#333333" stroke-width="1.3"/>
<text x="49.6" y="460.55" text-anchor="end" fill="#4D4D4D" stroke="#4D4D4D" stroke-width="0.25" font-size="14.0">50</text>
<line x1="53.4" y1="409.72" x2="57.9" y2="409.72" stroke="#333333" stroke-width="1.3"/>
<text x="49.6" y="414.72" text-anchor="end" fill="#4D4D4D" stroke="#4D4D4D" stroke-width="0.25" font-size="14.0">100</text>
<line x1="53.4" y1="363.9" x2="57.9" y2="363.9" stroke="#333333" stroke-width="1.3"/>
<text x="49.6" y="368.9" text-anchor="end" fill="#4D4D4D" stroke="#4D4D4D" stroke-width="0.25" font-size="14.0">150</text>
<line x1="67.6" y1="503.4" x2="67.6" y2="508.1" stroke="#333333" stroke-width="1.3"/>
<text x="67.6" y="522.0" text-anchor="middle" fill="#4D4D4D" stroke="#4D4D4D" stroke-width="0.25" font-size="14.0">0</text>
<line x1="123.86" y1="503.4" x2="123.86" y2="508.1" stroke="#333333" stroke-width="1.3"/>
<text x="123.86" y="522.0" text-anchor="middle" fill="#4D4D4D" stroke="#4D4D4D" stroke-width="0.25" font-size="14.0">20</text>
<line x1="180.12" y1="503.4" x2="180.12" y2="508.1" stroke="#333333" stroke-width="1.3"/>
<text x="180.12" y="522.0" text-anchor="middle" fill="#4D4D4D" stroke="#4D4D4D" stroke-width="0.25" font-size="14.0">40</text>
<line x1="236.38" y1="503.4" x2="236.38" y2="508.1" stroke="#333333" stroke-width="1.3"/>
<text x="236.38" y="522.0" text-anchor="middle" fill="#4D4D4D" stroke="#4D4D4D" stroke-width="0.25" font-size="14.0">60</text>
<line x1="302.1" y1="503.4" x2="302.1" y2="508.1" stroke="#333333" stroke-width="1.3"/>
<text x="302.1" y="522.0" text-anchor="middle" fill="#4D4D4D" stroke="#4D4D4D" stroke-width="0.25" font-size="14.0">0</text>
<line x1="358.36" y1="503.4" x2="358.36" y2="508.1" stroke="#333333" stroke-width="1.3"/>
<text x="358.36" y="522.0" text-anchor="middle" fill="#4D4D4D" stroke="#4D4D4D" stroke-width="0.25" font-size="14.0">20</text>
<line x1="414.62" y1="503.4" x2="414.62" y2="508.1" stroke="#333333" stroke-width="1.3"/>
<text x="414.62" y="522.0" text-anchor="middle" fill="#4D4D4D" stroke="#4D4D4D" stroke-width="0.25" font-size="14.0">40</text>
<line x1="470.88" y1="503.4" x2="470.88" y2="508.1" stroke="#333333" stroke-width="1.3"/>
<text x="470.88" y="522.0" text-anchor="middle" fill="#4D4D4D" stroke="#4D4D4D" stroke-width="0.25" font-size="14.0">60</text>
<text x="287.9" y="541.2" text-anchor="middle" fill="#000" stroke="#000" stroke-width="0.35" font-size="16.9">Time (min)</text>
<text transform="translate(18.6,268.8) rotate(-90)" text-anchor="middle" fill="#000" stroke="#000" stroke-width="0.35" font-size="16.9">Infiltration rate (mm/h)</text>
</svg>
</body></html>
